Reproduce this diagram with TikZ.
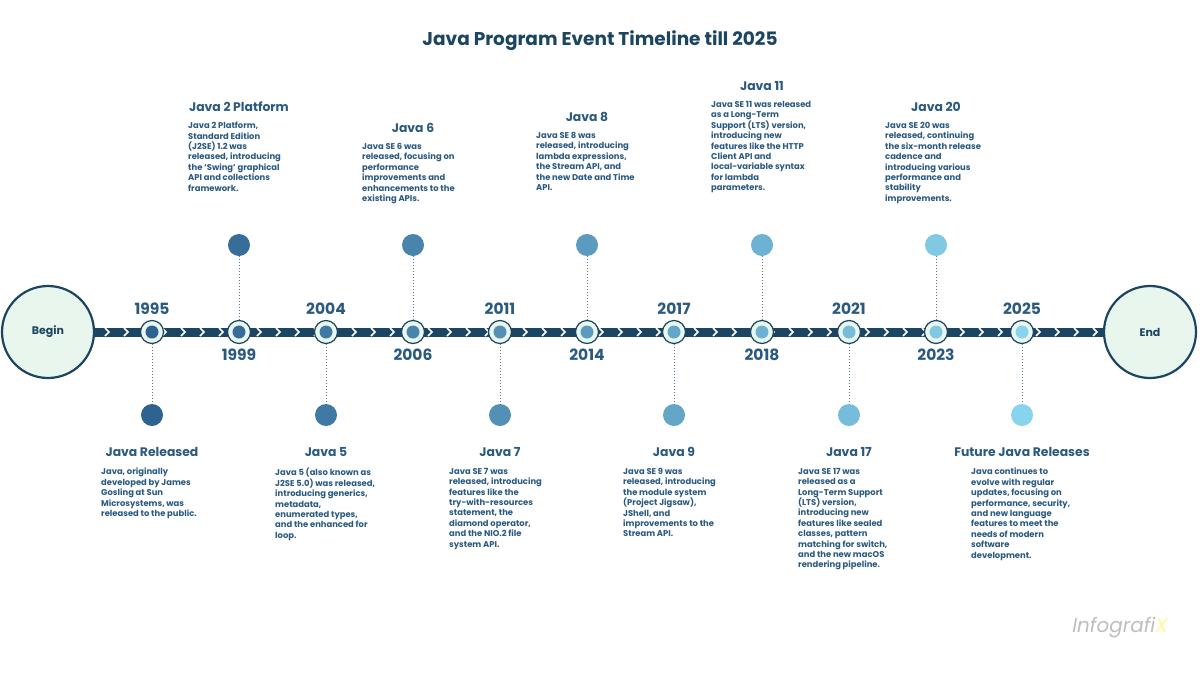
\documentclass[tikz,border=0pt]{standalone}
\usepackage{fontspec}
\setmainfont{Poppins}
\hyphenpenalty=10000
\exhyphenpenalty=10000
\definecolor{dark}{HTML}{1B4560}
\definecolor{cA}{HTML}{2E6290}
\definecolor{cB}{HTML}{88D4EE}
\definecolor{txt}{HTML}{2B5A80}
\definecolor{pale}{HTML}{E8F6EE}
\begin{document}
\begin{tikzpicture}[x=1pt,y=-1pt,
  body/.style={font=\fontsize{8.4}{10.4}\selectfont\bfseries, text=txt, text width=100pt, align=flush left, inner sep=0pt, anchor=north west, xshift=-51pt},
  ttl/.style={font=\fontsize{12.4}{14}\selectfont\bfseries, text=txt, inner sep=0pt},
  yr/.style={font=\fontsize{15.5}{17}\selectfont\bfseries, text=txt, inner sep=0pt},
  endc/.style={circle, draw=dark, line width=2.2pt, fill=pale, minimum size=92pt, font=\fontsize{11}{13}\selectfont\bfseries, text=dark},
  ring/.style={circle, draw=dark, line width=1.2pt, fill=pale, minimum size=23pt, inner sep=0pt},
  dot/.style={circle, minimum size=22pt, inner sep=0pt},
  conn/.style={dotted, line width=1pt, draw=txt!80}]
\useasboundingbox (0,0) rectangle (1200,675);
\fill[white] (0,0) rectangle (1200,675);
\node[font=\fontsize{18.5}{20}\selectfont\bfseries, text=dark] (title) at (600,41) {Java Program Event Timeline till 2025};
\node[endc] (begin) at (48,332) {Begin};
\node[endc] (end) at (1150,332) {End};
\draw[dark, line width=9pt] (begin.east) -- (end.west);
\foreach \k in {0,...,52} {
  \draw[white, line width=1.6pt] ({105+\k*19},328) -- ({109+\k*19},332) -- ({105+\k*19},336);
}
\foreach \i/\x/\yr/\up in {0/152/1995/0,1/239/1999/1,2/326/2004/0,3/413/2006/1,4/500/2011/0,5/587/2014/1,6/674/2017/0,7/762/2018/1,8/849/2021/0,9/936/2023/1,10/1022/2025/0} {
  \pgfmathtruncatemacro\p{\i*10}
  \colorlet{cc}{cB!\p!cA}
  \ifnum\up=1
    \node[dot, fill=cc] (d\i) at (\x,245) {};
    \node[yr] (y\i) at (\x,355) {\yr};
  \else
    \node[dot, fill=cc] (d\i) at (\x,415) {};
    \node[yr] (y\i) at (\x,309) {\yr};
  \fi
  \node[ring] (m\i) at (\x,332) {};
  \node[circle, fill=cc, minimum size=13pt, inner sep=0pt] at (m\i) {};
  \draw[conn] (m\i) -- (d\i);
}
% top events
\node[ttl] (t1) at (239,107) {Java 2 Platform};
\node[body] at (239,122) {Java 2 Platform, Standard Edition (J2SE) 1.2 was released, introducing the `Swing' graphical API and collections framework.};
\node[ttl] (t3) at (413,128) {Java 6};
\node[body] at (413,143) {Java SE 6 was released, focusing on performance improvements and enhancements to the existing APIs.};
\node[ttl] (t5) at (587,117) {Java 8};
\node[body] at (587,132) {Java SE 8 was released, introducing lambda expressions, the Stream API, and the new Date and Time API.};
\node[ttl] (t7) at (762,86) {Java 11};
\node[body] at (762,101) {Java SE 11 was released as a Long-Term Support (LTS) version, introducing new features like the HTTP Client API and local-variable syntax for lambda parameters.};
\node[ttl] (t9) at (936,107) {Java 20};
\node[body] at (936,122) {Java SE 20 was released, continuing the six-month release cadence and introducing various performance and stability improvements.};
% bottom events
\node[ttl] (t0) at (152,452) {Java Released};
\node[body] at (152,468) {Java, originally developed by James Gosling at Sun Microsystems, was released to the public.};
\node[ttl] (t2) at (326,452) {Java 5};
\node[body] at (326,468) {Java 5 (also known as J2SE 5.0) was released, introducing generics, metadata, enumerated types, and the enhanced for loop.};
\node[ttl] (t4) at (500,452) {Java 7};
\node[body] at (500,468) {Java SE 7 was released, introducing features like the try-with-resources statement, the diamond operator, and the NIO.2 file system API.};
\node[ttl] (t6) at (674,452) {Java 9};
\node[body] at (674,468) {Java SE 9 was released, introducing the module system (Project Jigsaw), JShell, and improvements to the Stream API.};
\node[ttl] (t8) at (849,452) {Java 17};
\node[body] at (849,468) {Java SE 17 was released as a Long-Term Support (LTS) version, introducing new features like sealed classes, pattern matching for switch, and the new macOS rendering pipeline.};
\node[ttl] (t10) at (1022,452) {Future Java Releases};
\node[body] at (1022,468) {Java continues to evolve with regular updates, focusing on performance, security, and new language features to meet the needs of modern software development.};
% watermark
\node[font=\fontsize{20}{22}\selectfont\itshape, text=black!25] (wm) at (1120,628) {Infografi\textcolor{yellow!40}{X}};
\end{tikzpicture}
\end{document}
